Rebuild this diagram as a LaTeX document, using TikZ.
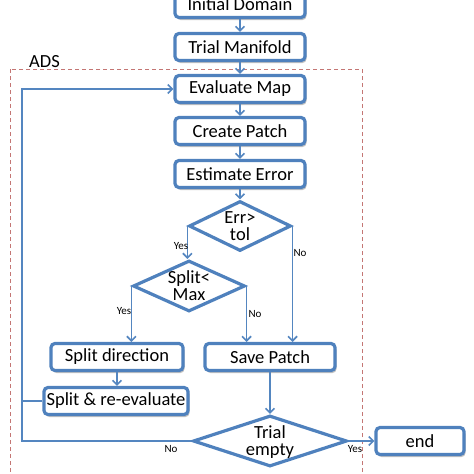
\documentclass[tikz,border=0pt]{standalone}
\usepackage{fontspec}
\setmainfont{Carlito}
\usetikzlibrary{shapes.geometric,arrows.meta,shadows}

\definecolor{boxblue}{RGB}{79,129,189}
\definecolor{lineblue}{RGB}{84,134,192}
\definecolor{adsred}{RGB}{196,118,116}

\tikzset{
  stepbox/.style={draw=boxblue, line width=3.2pt, rounded corners=4pt, fill=white,
    minimum width=130pt, minimum height=27pt, inner sep=1pt,
    font=\fontsize{18.5}{18}\selectfont,
    drop shadow={opacity=0.55, fill=black!45, shadow xshift=1.5pt, shadow yshift=-2.5pt}},
  decision/.style={diamond, draw=boxblue, line width=3.2pt, fill=white, inner sep=0pt},
  dtext/.style={align=center, inner sep=0pt, font=\fontsize{18.5}{17}\selectfont},
  flow/.style={lineblue, line width=1.6pt, -{Straight Barb[length=4.5pt,width=9pt]}},
  plain/.style={lineblue, line width=1.6pt},
  answer/.style={inner sep=0pt, font=\fontsize{11}{11}\selectfont}
}

\begin{document}
\begin{tikzpicture}[x=1pt,y=1pt,yscale=-1]
\useasboundingbox (0,0) rectangle (474,474);

%ADS frame
\draw [adsred, line width=0.9pt, dash pattern=on 4pt off 3pt] (10,69) rectangle (362,490) ;
% Text Node
\node [anchor=base west, inner sep=0pt, font=\fontsize{18.5}{18}\selectfont] (ads) at (29,67) {ADS};

%Boxes
\node [stepbox] (init) at (240,4) {Initial Domain};
\node [stepbox] (trial) at (240,47) {Trial Manifold};
\node [stepbox] (evalmap) at (240,89) {Evaluate Map};
\node [stepbox] (patch) at (240,131) {Create Patch};
\node [stepbox] (esterr) at (240,174) {Estimate Error};
\node [stepbox, minimum width=132pt] (splitdir) at (117,357) {Split direction};
\node [stepbox, minimum width=130pt] (savepatch) at (270,357) {Save Patch};
\node [stepbox, minimum width=144pt] (splitre) at (116,401) {Split \& re-evaluate};
\node [stepbox, minimum width=88pt] (done) at (420,441) {end};

%Decisions
\node [decision, minimum width=102pt, minimum height=50pt,
  label={[dtext]center:Err>\\tol}] (errtol) at (240,226) {};
\node [decision, minimum width=112pt, minimum height=51pt,
  label={[dtext]center:Split<\\Max}] (splitmax) at (189,286) {};
\node [decision, minimum width=154pt, minimum height=51pt,
  label={[dtext, yshift=-1pt]center:Trial\\empty}] (trialempty) at (270,441) {};

%Feedback corner
\coordinate (back) at (22,441);

%Straight Lines
\draw [flow] (init) -- (trial) ;
\draw [flow] (trial) -- (evalmap) ;
\draw [flow] (evalmap) -- (patch) ;
\draw [flow] (patch) -- (esterr) ;
\draw [flow] (esterr) -- (errtol.north) ;
\draw [flow] (errtol.west) -- (errtol.west |- splitmax.north) ;
\draw [flow] (errtol.east) -- (errtol.east |- savepatch.north) ;
\draw [flow] (splitmax.west) -- (splitmax.west |- splitdir.north) ;
\draw [flow] (splitmax.east) -- (splitmax.east |- savepatch.north) ;
\draw [flow] (splitdir) -- (splitdir |- splitre.north) ;
\draw [flow] (savepatch) -- (trialempty.north) ;
\draw [flow] (trialempty.east) -- (done.west) ;
\draw [flow] (trialempty.west) -- (back) |- (evalmap.west) ;
\draw [plain] (splitre.west) -- (splitre.west -| back) ;

% Text Node
\node [answer] (yes1) at (181,246) {Yes};
\node [answer] (no1) at (300,253) {No};
\node [answer] (yes2) at (124,311) {Yes};
\node [answer] (no2) at (255,314) {No};
\node [answer] (no3) at (171,449) {No};
\node [answer] (yes3) at (355,449) {Yes};

\end{tikzpicture}
\end{document}
